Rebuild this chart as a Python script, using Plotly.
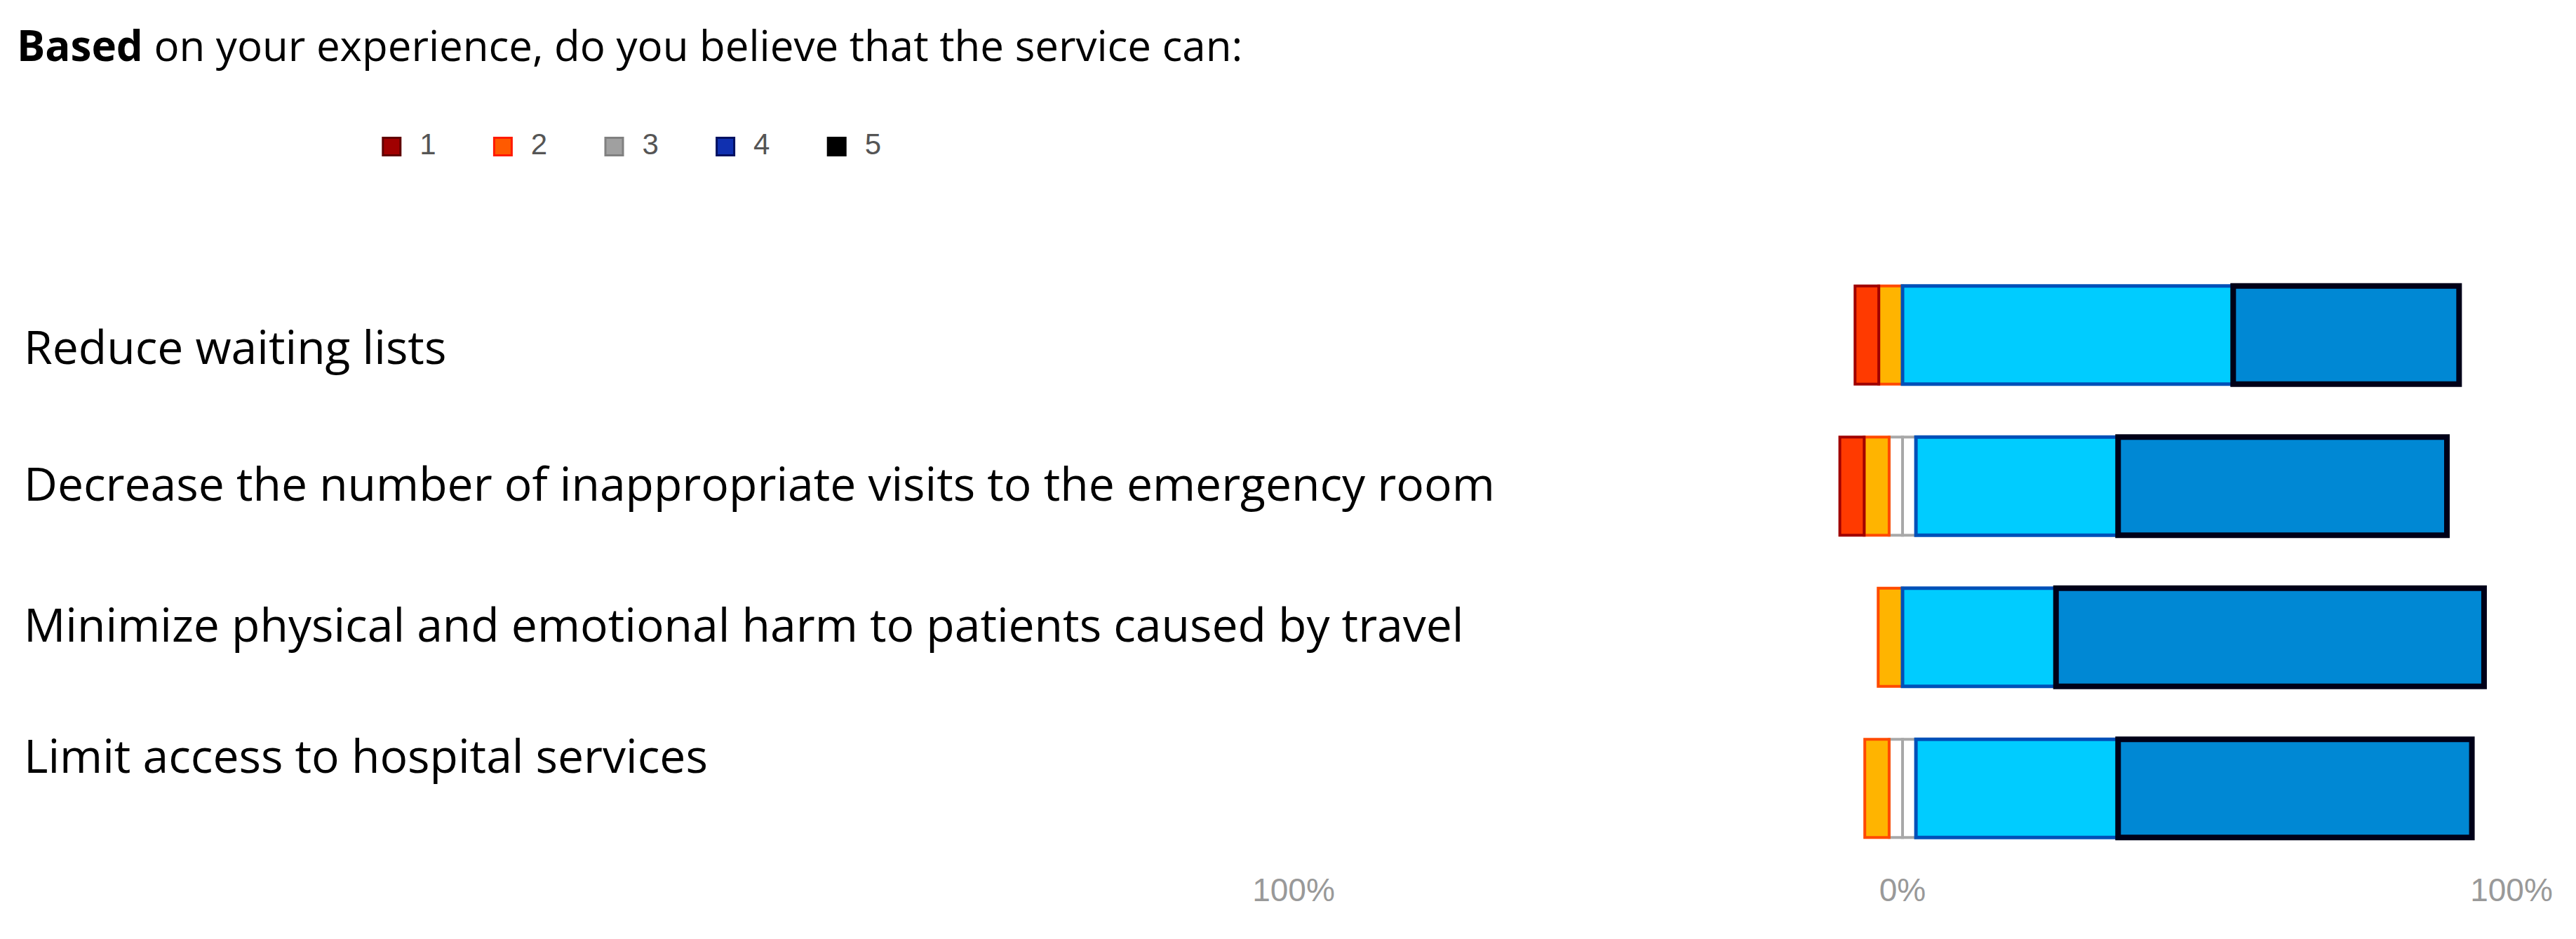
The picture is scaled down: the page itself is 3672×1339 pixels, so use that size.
import plotly.graph_objects as go

# survey statements (top to bottom)
statements = [
    "Reduce waiting lists",
    "Decrease the number of inappropriate visits to the emergency room",
    "Minimize physical and emotional harm to patients caused by travel",
    "Limit access to hospital services",
]

# share of answers per score, in %
score_1 = [3.9, 4.0, 0.0, 0.0]
score_2 = [3.9, 4.1, 4.0, 4.0]
score_3 = [0.0, 4.4, 0.0, 4.4]
score_4 = [54.3, 33.2, 25.2, 33.2]
score_5 = [37.1, 54.0, 70.3, 58.1]

legend_names = ["1", "2", "3", "4", "5"]
tick_vals = [-100, 0, 100]
tick_text = ["100%", "0%", "100%"]

W, H = 3672, 1339
FONT = "Open Sans"

fig = go.Figure()

# neutral answers are split around zero, negatives stack to the left
half_3 = [v / 2 for v in score_3]
segments = [
    ([-v for v in half_3], "#FFFFFF", "#A8A8A8", 4),
    (half_3, "#FFFFFF", "#A8A8A8", 4),
    ([-v for v in score_2], "#FFB400", "#FF4A00", 4),
    (score_4, "#00CCFF", "#0050B8", 5),
    ([-v for v in score_1], "#FF3A00", "#A00000", 4),
    (score_5, "#0088D4", "#000018", 8),
]
for vals, fill, edge, lw in segments:
    fig.add_trace(go.Bar(
        x=vals, y=statements, orientation="h", showlegend=False,
        marker=dict(color=fill, line=dict(color=edge, width=lw)),
    ))

# legend drawn as a small strip of its own, using the original palette
legend_colors = ["#A00000", "#FF5A00", "#A0A0A0", "#1030B0", "#000000"]
legend_edges = ["#600000", "#FF1A00", "#808080", "#001060", "#000000"]
fig.add_trace(go.Scatter(
    x=legend_names, y=[0] * len(legend_names), xaxis="x2", yaxis="y2",
    mode="markers+text", text=legend_names, texttemplate="\u00a0\u00a0%{text}",
    textposition="middle right", showlegend=False, hoverinfo="skip",
    marker=dict(symbol="square", size=25, color=legend_colors,
                line=dict(color=legend_edges, width=3)),
    textfont=dict(family="Liberation Sans", size=42, color="#555555"),
))

label_y = [485, 680, 881, 1068]
for text, py in zip(statements, label_y):
    fig.add_annotation(
        x=24 / W, y=1 - py / H, xref="paper", yref="paper",
        text=text, showarrow=False, xanchor="left", yanchor="middle",
        font=dict(family=FONT, size=66, color="#000000"),
    )

fig.add_annotation(
    x=14 / W, y=1 - 56 / H, xref="paper", yref="paper",
    text="<b>Based</b> on your experience, do you believe that the service can:",
    showarrow=False, xanchor="left", yanchor="middle",
    font=dict(family=FONT, size=60, color="#000000"),
)

fig.update_layout(
    width=W, height=H,
    barmode="relative", bargap=0.35,
    paper_bgcolor="white", plot_bgcolor="white",
    margin=dict(l=0, r=0, t=0, b=0, pad=0, autoexpand=False),
    showlegend=False,
    xaxis=dict(
        domain=[1836 / W, 3572 / W], range=[-100, 100], automargin=False,
        tickvals=tick_vals, ticktext=tick_text, showgrid=False, zeroline=False,
        showline=False, ticks="", ticklabelstandoff=6,
        tickfont=dict(family="Liberation Sans", size=46, color="#999999"),
    ),
    yaxis=dict(
        domain=[1 - 1224 / H, 1 - 362 / H], autorange="reversed", automargin=False,
        showticklabels=False, showgrid=False, zeroline=False, showline=False,
    ),
    xaxis2=dict(
        domain=[471 / W, 1264 / W], range=[-0.5, 4.5], anchor="y2", automargin=False,
        visible=False,
    ),
    yaxis2=dict(
        domain=[1 - 236 / H, 1 - 166 / H], range=[-1, 1], anchor="x2", automargin=False,
        visible=False,
    ),
)

fig.write_html("out.html")
